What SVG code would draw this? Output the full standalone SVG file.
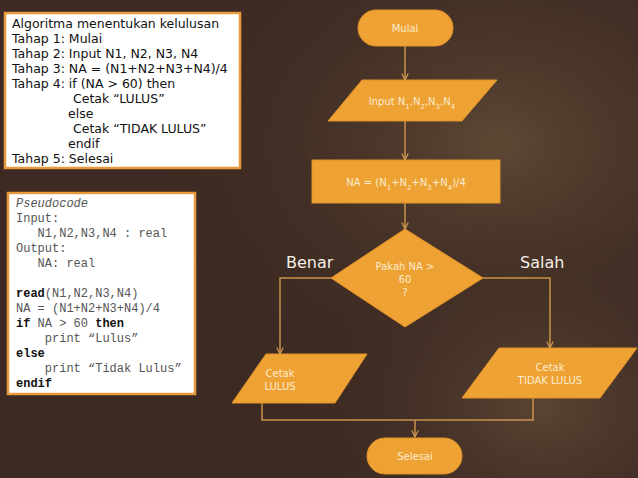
<svg xmlns="http://www.w3.org/2000/svg" width="638" height="478" viewBox="0 0 638 478">
<defs>
<radialGradient id="bg1" cx="0.78" cy="0.3" r="0.55">
<stop offset="0" stop-color="#5e4834"/>
<stop offset="1" stop-color="#3d2a22" stop-opacity="0"/>
</radialGradient>
<radialGradient id="bg2" cx="0.85" cy="0.85" r="0.4">
<stop offset="0" stop-color="#5a4433"/>
<stop offset="1" stop-color="#3d2a22" stop-opacity="0"/>
</radialGradient>
<marker id="arr" viewBox="0 0 10 10" refX="9" refY="5" markerWidth="8" markerHeight="8" markerUnits="userSpaceOnUse" orient="auto">
<path d="M1,1 L9,5 L1,9" fill="none" stroke="#d39a52" stroke-width="1.5"/>
</marker>
<style>
.shape{fill:#eea233;stroke:#e0922a;stroke-width:1}
.lbl{font-family:"DejaVu Sans",Verdana,sans-serif;font-size:10px;fill:#fcebd0;text-anchor:middle}
.con{fill:none;stroke:#c8924c;stroke-width:1.5}
.box{fill:#ffffff;stroke:#e89a3c;stroke-width:2.5}
.t1{font-family:"DejaVu Sans",Verdana,sans-serif;font-size:12.5px;fill:#111}
.t2{font-family:"Liberation Mono","Courier New",monospace;font-size:12px;fill:#555}
.kw{font-weight:bold;fill:#111}
.side{font-family:"DejaVu Sans",Verdana,sans-serif;font-size:16px;fill:#f5efe8}
</style>
</defs>
<rect width="638" height="478" fill="#3d2a22"/>
<rect width="638" height="478" fill="url(#bg1)"/>
<rect width="638" height="478" fill="url(#bg2)"/>

<g id="algoritma">
<rect class="box" x="5" y="13" width="235" height="155"/>
<text class="t1" x="12" y="28">Algoritma menentukan kelulusan</text>
<text class="t1" x="12" y="43">Tahap 1: Mulai</text>
<text class="t1" x="12" y="58">Tahap 2: Input N1, N2, N3, N4</text>
<text class="t1" x="12" y="73">Tahap 3: NA = (N1+N2+N3+N4)/4</text>
<text class="t1" x="12" y="88">Tahap 4: if (NA &gt; 60) then</text>
<text class="t1" x="73" y="103">Cetak “LULUS”</text>
<text class="t1" x="68" y="118">else</text>
<text class="t1" x="73" y="133">Cetak “TIDAK LULUS”</text>
<text class="t1" x="68" y="148">endif</text>
<text class="t1" x="12" y="163">Tahap 5: Selesai</text>
</g>

<g id="pseudocode">
<rect class="box" x="8" y="193" width="187" height="201"/>
<text class="t2" x="16" y="207" font-style="italic">Pseudocode</text>
<text class="t2" x="16" y="222">Input:</text>
<text class="t2" x="16" y="237" xml:space="preserve">   N1,N2,N3,N4 : real</text>
<text class="t2" x="16" y="252">Output:</text>
<text class="t2" x="16" y="267" xml:space="preserve">   NA: real</text>
<text class="t2" x="16" y="297"><tspan class="kw">read</tspan>(N1,N2,N3,N4)</text>
<text class="t2" x="16" y="312">NA = (N1+N2+N3+N4)/4</text>
<text class="t2" x="16" y="327" xml:space="preserve"><tspan class="kw">if</tspan> NA &gt; 60 <tspan class="kw">then</tspan></text>
<text class="t2" x="16" y="342" xml:space="preserve">    print “Lulus”</text>
<text class="t2 kw" x="16" y="357">else</text>
<text class="t2" x="16" y="372" xml:space="preserve">    print “Tidak Lulus”</text>
<text class="t2 kw" x="16" y="387">endif</text>
</g>

<g id="connectors">
<line class="con" x1="405" y1="46" x2="405" y2="80" marker-end="url(#arr)"/>
<line class="con" x1="405" y1="121" x2="405" y2="160" marker-end="url(#arr)"/>
<line class="con" x1="405" y1="203" x2="405" y2="229" marker-end="url(#arr)"/>
<polyline class="con" points="331,278 280,278 280,354" marker-end="url(#arr)"/>
<polyline class="con" points="483,278 550,278 550,348" marker-end="url(#arr)"/>
<polyline class="con" points="262,403 262,420 533,420 533,398"/>
<line class="con" x1="415" y1="420" x2="415" y2="437" marker-end="url(#arr)"/>
</g>

<g id="mulai">
<rect class="shape" x="358" y="10" width="95" height="36" rx="18"/>
<text class="lbl" x="405" y="32">Mulai</text>
</g>

<g id="input">
<polygon class="shape" points="362,80 497,80 462,121 328,121"/>
<text class="lbl" x="412" y="105">Input N<tspan font-size="7" baseline-shift="sub">1</tspan>,N<tspan font-size="7" baseline-shift="sub">2</tspan>,N<tspan font-size="7" baseline-shift="sub">3</tspan>,N<tspan font-size="7" baseline-shift="sub">4</tspan></text>
</g>

<g id="hitung">
<rect class="shape" x="312" y="160" width="188" height="43"/>
<text class="lbl" x="406" y="186">NA = (N<tspan font-size="7" baseline-shift="sub">1</tspan>+N<tspan font-size="7" baseline-shift="sub">2</tspan>+N<tspan font-size="7" baseline-shift="sub">3</tspan>+N<tspan font-size="7" baseline-shift="sub">4</tspan>)/4</text>
</g>

<g id="keputusan">
<polygon class="shape" points="405,229 483,278 405,327 331,278"/>
<text class="lbl" x="405" y="270">Pakah NA &gt;</text>
<text class="lbl" x="405" y="283">60</text>
<text class="lbl" x="405" y="296">?</text>
</g>

<text class="side" x="286" y="268">Benar</text>
<text class="side" x="520" y="268">Salah</text>

<g id="cetak-lulus">
<polygon class="shape" points="266,354 367,354 335,403 232,403"/>
<text class="lbl" x="280" y="377">Cetak</text>
<text class="lbl" x="280" y="390">LULUS</text>
</g>

<g id="cetak-tidak-lulus">
<polygon class="shape" points="499,348 637,348 600,398 462,398"/>
<text class="lbl" x="550" y="371">Cetak</text>
<text class="lbl" x="550" y="384">TIDAK LULUS</text>
</g>

<g id="selesai">
<rect class="shape" x="367" y="438" width="95" height="36" rx="18"/>
<text class="lbl" x="415" y="460">Selesai</text>
</g>
</svg>
